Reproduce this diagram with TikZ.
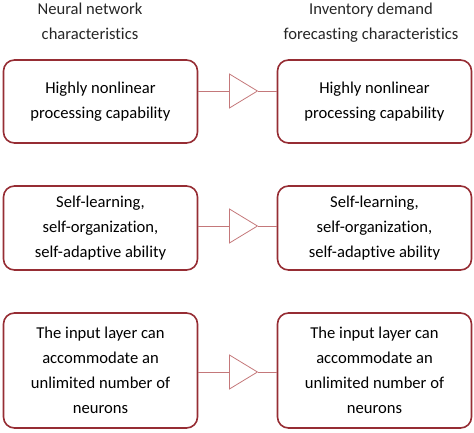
\documentclass[tikz,border=0pt]{standalone}
\usepackage{fontspec}
\setmainfont{Carlito}[Ligatures=NoCommon]
\usetikzlibrary{shapes.geometric}
\definecolor{boxred}{RGB}{150,45,52}
\definecolor{arrred}{RGB}{196,120,122}

\begin{document}
\begin{tikzpicture}[x=1pt,y=-1pt,font=\fontsize{16.6}{25}\selectfont,
   box/.style={draw=boxred,line width=1.6pt,rounded corners=11pt,align=center,
     minimum width=194pt,inner sep=0pt},
   hd/.style={align=center,text=black!85},
   tri/.style={draw=arrred,line width=0.8pt,isosceles triangle,isosceles triangle stretches,
     shape border rotate=0,minimum width=34pt,minimum height=28pt,inner sep=0pt},
   ln/.style={arrred,line width=0.8pt}]
  \useasboundingbox (0,0) rectangle (474,432);
  % column headers
  \node[hd] (hl) at (90,21){Neural network\\characteristics};
  \node[hd] (hr) at (371,23){Inventory demand\\forecasting characteristics};
  % row 1
  \node[box,minimum height=83pt] (l1) at (100.5,101.5){Highly nonlinear\\processing capability};
  \node[box,minimum height=83pt] (r1) at (374.5,101.5){Highly nonlinear\\processing capability};
  \node[tri] (t1) at (239,91){};
  % row 2
  \node[box,minimum height=84pt] (l2) at (100.5,228){Self-learning,\\self-organization,\\self-adaptive ability};
  \node[box,minimum height=84pt] (r2) at (374.5,228){Self-learning,\\self-organization,\\self-adaptive ability};
  \node[tri] (t2) at (239,226){};
  % row 3
  \node[box,minimum height=115pt] (l3) at (100.5,370.5){The input layer can\\accommodate an\\unlimited number of\\neurons};
  \node[box,minimum height=115pt] (r3) at (374.5,370.5){The input layer can\\accommodate an\\unlimited number of\\neurons};
  \node[tri] (t3) at (239,372){};
  % connectors
  \foreach \i in {1,2,3}{
    \draw[ln] (t\i.west -| l\i.east) -- (t\i.west);
    \draw[ln] (t\i.east) -- (t\i.east -| r\i.west);
  }
\end{tikzpicture}
\end{document}
